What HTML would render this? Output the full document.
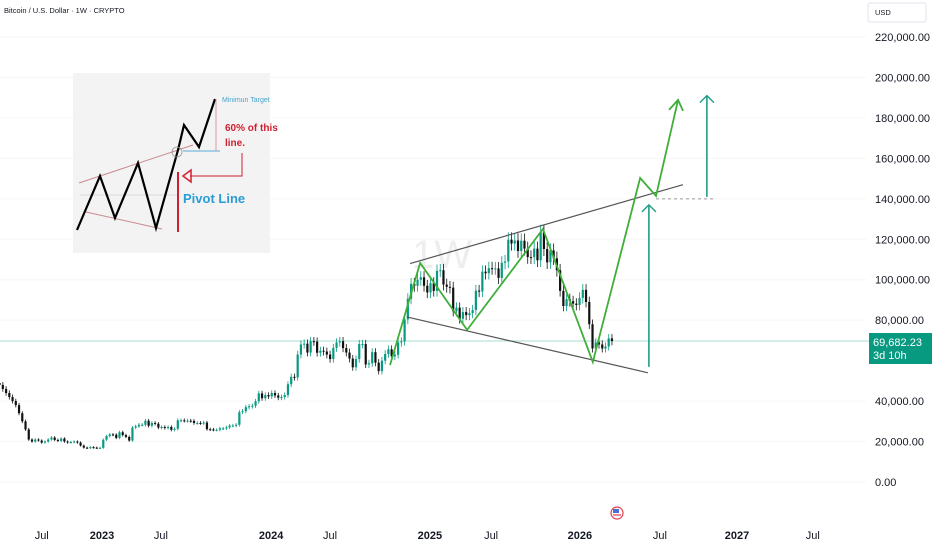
<!DOCTYPE html>
<html><head><meta charset="utf-8"><style>
body{margin:0;background:#fff;}
svg{display:block;font-family:"Liberation Sans",sans-serif;}
</style></head><body>
<svg width="932" height="550" viewBox="0 0 932 550">
<g id="grid"></g>
<text x="412" y="268" font-size="40" fill="#eeeeee">1W</text>
<g id="candles"></g>
<g id="ann"></g>
<g id="yaxis"></g>
<g id="xaxis"></g>

<g>
 <rect x="73" y="73" width="197" height="180" fill="#f3f3f3"/>
 <line x1="80" y1="195" x2="178" y2="195" stroke="#d8d8d8" stroke-width="1"/>
 <line x1="79" y1="183" x2="193" y2="145" stroke="#c98a90" stroke-width="1"/>
 <line x1="86" y1="212" x2="162" y2="229" stroke="#c98a90" stroke-width="1"/>
 <polyline points="77,230 100,176 115,218 138,163 156,228 178,150 184,125 199,147 215,99" fill="none" stroke="#000" stroke-width="2.2"/>
 <circle cx="177" cy="152" r="5" fill="none" stroke="#999" stroke-width="0.8"/>
 <line x1="183" y1="151" x2="220" y2="151" stroke="#5aa9d6" stroke-width="1"/>
 <line x1="216" y1="99" x2="216" y2="151" stroke="#d99aa0" stroke-width="1"/>
 <line x1="178" y1="172" x2="178" y2="232" stroke="#d02030" stroke-width="2"/>
 <polyline points="242,153 242,176 190,176" fill="none" stroke="#d02030" stroke-width="1"/>
 <polygon points="183,176 191,170 191,182" fill="none" stroke="#d02030" stroke-width="1.5"/>
 <text x="222" y="102" font-size="7" fill="#4aa3cc">Minimun Target</text>
 <text x="225" y="131" font-size="10" font-weight="bold" fill="#d02030">60% of this</text>
 <text x="225" y="146" font-size="10" font-weight="bold" fill="#d02030">line.</text>
 <text x="183" y="203" font-size="13" font-weight="bold" fill="#2a9bd6">Pivot Line</text>
</g>

<text x="4" y="13" font-size="7.5" fill="#131722">Bitcoin / U.S. Dollar · 1W · CRYPTO</text>
<rect x="868" y="3" width="58" height="19" fill="#fff" stroke="#e0e3eb" rx="2"/>
<text x="875" y="15" font-size="7.5" fill="#131722">USD</text>

<rect x="869" y="333" width="63" height="31" fill="#089981"/>
<text x="873" y="346" font-size="11" fill="#fff">69,682.23</text>
<text x="873" y="359" font-size="11" fill="#fff">3d 10h</text>

<g>
 <circle cx="617" cy="513" r="6" fill="#fff" stroke="#e04050" stroke-width="1.2"/>
 <rect x="613" y="509" width="6" height="4" fill="#4a6fd8"/>
 <line x1="613" y1="515" x2="621" y2="515" stroke="#e04050" stroke-width="1.2"/>
</g>

<script>
const priceTicks=[0,20000,40000,80000,100000,120000,140000,160000,180000,200000,220000];
const timeLabels=["Jul","2023","Jul","2024","Jul","2025","Jul","2026","Jul","2027","Jul"];
const timeLabelWeeks=[13,31.6,49.8,83.8,102,132.8,151.7,179.1,203.8,227.6,251];
const closes2022=[48,46,44,42,40,38,34,30,26,21,20,21,20.5,19.5,20,21,22,20.8,20.3,21.5,20,19.5,19.8,20,19.5,18,17,16.8,17.2,17,16.8];
const closes2023=[16.9,20.9,22.7,23.5,23.4,21.8,24.6,23.2,22.3,20.5,26.9,27.5,28.3,28.3,30.3,27.8,29.2,28.8,26.9,27.2,26.7,27.2,25.8,26.3,30.5,30.5,30.3,30.3,30.2,29.2,29.2,29.1,29.4,26.1,26.0,25.8,25.8,26.5,26.5,27.0,27.9,27.9,28.3,34.5,35,37,37.4,37.7,39.9,43.8,41.4,43.0,42.3];
const closes2024=[44,42.8,41.7,42,43,48.3,52,51.7,63,68,68.4,64,69.6,69.4,63.9,64.9,64.5,63.0,60.8,66.3,69,69.6,66.2,64.0,61.0,56.7,60.8,68.2,68.2,58.1,58.7,64.2,59.0,54.8,60.0,63.3,65.6,62.1,62.9,69,69.5,80.4,90.6,98,97,100,101.2,97,93.7];
const closes2025=[98.3,94.5,104.4,104.7,97.6,96.5,96.1,84.4,86.2,80.7,84,82.5,83.5,85,94.6,94.2,104,103.2,105.7,105.6,105.6,100.9,108.4,109,119.8,117.9,119.4,114.2,119.3,115.4,111.2,111.1,115.4,109.6,123.5,115.2,108.6,114.5,110.6,104.7,94.5,87,90.4,89.4,88.2,87.5];
const closes2026=[91,95,89,78,66,69,68,66,67,71,69.7];
const upperChannel=[[126.7,108000],[210.9,147000]];
const lowerChannel=[[125.7,81600],[200.1,54000]];
const zigzag=[[120.5,57800],[129.8,108300],[144.3,75200],[167.7,125100],[183.1,59300],[197.7,150300],[202.6,141400],[209.4,188900]];
const arrowUp1=[[200.4,56900],[200.4,137000]];
const arrowUp2=[[218.3,141000],[218.3,191000]];
const targetLevel=[[202.6,221],140000];
const lastPrice=69682.23;

const NS="http://www.w3.org/2000/svg";
const W0=-0.4,DX=3.24;
function xs(i){return W0+i*DX;}
function ys(v){return 482-v*0.0020227;}
function mk(tag,attrs,parent){const e=document.createElementNS(NS,tag);for(const k in attrs)e.setAttribute(k,attrs[k]);parent.appendChild(e);return e;}
const grid=document.getElementById('grid');
priceTicks.forEach(p=>{
 const l=mk('line',{x1:0,x2:866,y1:ys(p),y2:ys(p),stroke:'#f6f6f6','stroke-width':1},grid);
 
 
});
const pl=mk('line',{x1:0,x2:869,y1:ys(lastPrice),y2:ys(lastPrice),stroke:'#a8ddd4','stroke-width':1},grid);



const ya=document.getElementById('yaxis');
priceTicks.forEach(p=>{
 const t=mk('text',{x:875,y:ys(p)+4,'font-size':11,fill:'#131722'},ya);
 t.textContent=p.toLocaleString('en-US',{minimumFractionDigits:2});
 
 
});
const xa=document.getElementById('xaxis');
timeLabels.forEach((s,i)=>{
 const t=mk('text',{x:xs(timeLabelWeeks[i]),y:539,'font-size':11,fill:'#131722','text-anchor':'middle','font-weight':/^\d/.test(s)?'bold':'normal'},xa);
 t.textContent=s;
 
 
});

const closes=[].concat(closes2022,closes2023,closes2024,closes2025,closes2026).map(v=>v*1000);
const cg=document.getElementById('candles');
closes.forEach((c,i)=>{
 const o=i?closes[i-1]:c*1.02;
 const hi=Math.max(o,c)*1.03,lo=Math.min(o,c)*0.97;
 const up=c>=o,col=up?'#089981':'#111';
 const x=xs(i);
 const g=mk('g',{},cg);
 
 
 mk('line',{x1:x,x2:x,y1:ys(hi),y2:ys(lo),stroke:col,'stroke-width':0.8},g);
 const top=ys(Math.max(o,c)),bot=ys(Math.min(o,c));
 mk('rect',{x:x-1.1,y:top,width:2.2,height:Math.max(1,bot-top),fill:col},g);
});

const ag=document.getElementById('ann');
function line(pts,stroke,w,name,extra){
 const e=mk('polyline',Object.assign({points:pts.map(p=>xs(p[0])+','+ys(p[1])).join(' '),fill:'none',stroke:stroke,'stroke-width':w},extra||{}),ag);
 
 
 return e;
}
line(upperChannel,'#555',1.2,'upper-channel-line');
line(lowerChannel,'#555',1.2,'lower-channel-line');
line([[targetLevel[0][0],targetLevel[1]],[targetLevel[0][1],targetLevel[1]]],'#999',1,'target-level-dashed',{'stroke-dasharray':'3,3'});
line(zigzag,'#3fae3a',1.8,'projected-zigzag');
const tip=zigzag[zigzag.length-1];
const hx=xs(tip[0]),hy=ys(tip[1]);
const ah=mk('polyline',{points:(hx-9)+','+(hy+10)+' '+hx+','+hy+' '+(hx+5)+','+(hy+11),fill:'none',stroke:'#3fae3a','stroke-width':1.8},ag);


[[arrowUp1,'measured-move-arrow'],[arrowUp2,'target-arrow']].forEach(([a,n])=>{
 line(a,'#1f9e86',1.6,n);
 const x=xs(a[1][0]),y=ys(a[1][1]);
 const h=mk('polyline',{points:(x-7)+','+(y+7)+' '+x+','+y+' '+(x+7)+','+(y+7),fill:'none',stroke:'#1f9e86','stroke-width':1.4},ag);
 
 
});
</script>
</svg>
</body></html>
